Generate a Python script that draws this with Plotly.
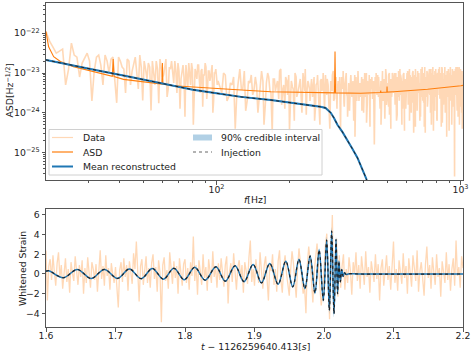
import numpy as np
import plotly.graph_objects as go

# ---------------- data ----------------
# ASD curve: frequency [Hz] and log10 amplitude
asd_freq = [20, 20.5, 21.5, 22.9, 25.9, 30.4, 35.6, 37.4, 37.7, 38.0,
            41.6, 48.7, 57, 59.7, 60, 60.3, 66.8, 88.7, 121.5, 166.8,
            259, 304.5, 306, 307.5, 390, 470, 471, 472, 499, 500,
            501, 533, 733, 1004, 1024]
asd_log = [-21.96, -22.34, -22.59, -22.71, -22.84, -22.94, -23.05, -23.08, -22.65, -23.09,
           -23.16, -23.22, -23.27, -23.28, -22.75, -23.28, -23.32, -23.36, -23.42, -23.47,
           -23.49, -23.50, -22.46, -23.50, -23.51, -23.49, -23.44, -23.49, -23.48, -23.34,
           -23.48, -23.47, -23.41, -23.32, -23.31]

# Mean reconstructed / injection in frequency domain (log10 amplitude)
mean_freq = [20, 25, 33.4, 42, 53.6, 67, 80, 100, 126, 167, 214, 243, 267, 280, 294,
             303, 313, 328, 344, 360, 378, 394, 410, 450, 500]
mean_log = [-22.67, -22.80, -22.95, -23.07, -23.20, -23.32, -23.42, -23.51, -23.60, -23.68,
            -23.76, -23.81, -23.85, -23.88, -24.00, -24.13, -24.30, -24.48, -24.68, -24.90,
            -25.13, -25.38, -25.64, -26.40, -27.20]
mean_ci_dex = [0.02, 0.02, 0.02, 0.02, 0.02, 0.02, 0.02, 0.02, 0.02, 0.02,
               0.02, 0.02, 0.02, 0.025, 0.03, 0.03, 0.03, 0.03, 0.03, 0.03,
               0.03, 0.03, 0.03, 0.03, 0.03]

# Data |FFT| (log10), 20-100 Hz, two interleaved sample sets
data_log_low = [-21.95, -22.35, -22.45, -23.30, -22.25, -22.60, -22.75, -22.50, -23.70, -22.60,
                -22.80, -22.55, -23.00, -22.60, -23.75, -22.70, -22.90, -22.65, -23.30, -22.80,
                -23.00, -22.55, -23.69, -22.90, -22.75, -23.94, -23.00, -22.70, -23.76, -22.85,
                -23.05, -22.65, -23.40, -22.90, -23.10, -22.70, -23.50, -22.95, -23.15, -22.80,
                -24.10, -23.00, -22.75, -23.30, -22.90, -23.60, -23.00, -22.80, -23.20, -22.95,
                -23.85, -23.05, -22.85, -23.40, -22.95, -23.10, -22.80, -23.70, -23.00, -23.10]
data_log_low2 = [-22.20, -22.50, -22.40, -22.90, -22.55, -23.10, -22.60, -22.70, -22.95, -22.55,
                 -23.30, -22.70, -22.65, -23.20, -22.60, -22.85, -23.50, -22.70, -22.95, -22.60,
                 -23.40, -22.85, -22.70, -23.15, -22.85, -22.70, -23.30, -22.90, -22.65, -23.10,
                 -22.80, -23.60, -22.85, -22.70, -23.25, -22.95, -22.75, -23.90, -22.90, -23.10,
                 -22.80, -23.35, -22.95, -22.75, -24.30, -22.90, -23.15, -22.80, -23.50, -22.90,
                 -23.05, -22.75, -23.65, -22.95, -23.20, -22.80, -24.00, -23.00, -22.90, -23.30]
# Data |FFT| (log10), 100-1024 Hz, two interleaved sample sets
data_log_high = [
    -23.2, -23.5, -23.05, -23.6, -23.3, -24.4, -23.15, -23.4, -22.95, -23.7, -23.25, -23.55, -23.1, -24.0, -23.35, -23.2, -23.8, -23.0, -23.45, -24.5,
    -23.15, -23.3, -23.65, -22.9, -23.4, -23.9, -23.2, -23.05, -23.6, -23.35, -24.2, -23.1, -23.5, -23.25, -23.75, -23.0, -23.45, -24.05, -23.2, -23.4,
    -23.3, -23.6, -23.1, -23.85, -23.25, -23.5, -24.3, -23.15, -23.4, -23.7, -23.05, -23.55, -23.3, -24.1, -23.2, -23.45, -22.95, -23.65, -23.35, -23.9,
    -23.2, -23.5, -24.45, -23.1, -23.4, -23.75, -23.25, -23.0, -23.6, -23.35, -23.95, -23.15, -23.5, -23.3, -24.2, -23.05, -23.45, -23.7, -23.2, -23.4,
    -23.3, -23.6, -23.1, -23.45, -24.0, -23.2, -23.5, -23.0, -23.75, -23.3, -23.55, -24.35, -23.15, -23.4, -23.65, -23.25, -24.8, -23.1, -23.45, -23.35,
    -23.05, -23.6, -23.3, -23.9, -23.2, -23.45, -22.95, -23.7, -23.25, -24.15, -23.4, -23.1, -23.55, -23.3, -23.85, -23.0, -23.45, -24.4, -23.2, -23.35,
    -23.1, -23.5, -23.25, -23.8, -23.0, -23.4, -24.05, -23.2, -23.6, -23.3, -22.9, -23.55, -23.15, -24.3, -23.35, -23.05, -23.7, -23.25, -23.45, -23.9,
    -23.1, -23.35, -22.95, -23.6, -23.2, -24.2, -23.05, -23.45, -23.25, -23.75, -23.0, -23.5, -24.5, -23.15, -23.3, -22.9, -23.65, -23.2, -23.95, -23.1,
    -23.4, -23.0, -23.55, -23.25, -24.1, -23.1, -23.35, -22.85, -23.7, -23.2, -23.45, -24.35, -23.05, -23.3, -23.6, -23.15, -22.95, -23.85, -23.25, -23.4,
    -23.05, -23.5, -23.2, -24.0, -22.9, -23.35, -23.15, -23.7, -23.0, -24.45, -23.25, -23.45, -22.95, -23.6, -23.1, -23.3, -24.15, -23.05, -23.4, -23.2,
    -22.9, -23.55, -23.15, -23.3, -23.85, -23.0, -23.4, -22.85, -24.25, -23.2, -23.5, -23.05, -23.35, -23.75, -22.95, -23.25, -23.6, -23.1, -24.6, -23.3,
    -23.0, -23.45, -22.9, -23.3, -23.95, -23.15, -23.4, -22.85, -23.65, -23.2, -24.3, -23.05, -23.35, -22.95, -23.55, -23.25, -23.1, -25.6, -23.4, -22.9,
    -23.2, -23.5, -23.05, -23.75, -22.85, -23.3, -24.1, -23.15, -23.45, -22.9, -23.6, -23.25, -23.0, -23.85, -23.2, -22.95, -23.4, -24.4, -23.1, -23.3,
]
data_log_high2 = [
    -23.35, -23.0, -23.7, -23.25, -23.1, -23.55, -22.9, -23.4, -23.95, -23.2, -23.05, -23.45, -23.3, -23.65, -22.95, -24.3, -23.25, -23.1, -23.5, -23.15,
    -23.45, -23.2, -22.95, -23.8, -23.3, -23.1, -23.55, -24.45, -23.2, -23.4, -23.0, -23.6, -23.35, -23.15, -24.0, -23.3, -22.9, -23.5, -23.25, -23.7,
    -23.15, -23.4, -24.2, -23.3, -23.05, -23.6, -23.2, -23.45, -23.0, -23.9, -23.35, -23.15, -23.55, -24.4, -23.25, -23.05, -23.7, -23.3, -23.1, -23.5,
    -23.4, -23.1, -23.65, -23.3, -22.95, -23.85, -23.2, -23.5, -24.1, -23.25, -23.4, -23.05, -23.6, -23.2, -23.45, -24.6, -23.1, -23.35, -22.95, -23.7,
    -23.25, -23.45, -23.95, -23.15, -23.35, -23.0, -23.6, -24.25, -23.2, -23.4, -23.05, -23.7, -23.3, -23.1, -23.5, -23.2, -24.0, -23.35, -23.0, -23.55,
    -23.3, -23.1, -23.5, -23.2, -24.3, -23.0, -23.4, -23.65, -23.15, -23.35, -22.9, -23.8, -23.25, -23.45, -23.05, -24.05, -23.3, -23.15, -23.6, -23.0,
    -23.4, -23.2, -23.0, -23.6, -23.3, -24.2, -23.1, -23.45, -22.95, -23.7, -23.25, -23.05, -23.5, -23.2, -23.9, -23.35, -23.0, -24.45, -23.15, -23.3,
    -23.45, -23.0, -23.3, -23.8, -23.15, -22.9, -23.55, -23.25, -24.0, -23.1, -23.35, -22.95, -23.6, -23.2, -23.05, -24.35, -23.3, -23.1, -23.5, -22.95,
    -23.2, -23.5, -23.05, -24.2, -23.3, -22.9, -23.6, -23.15, -23.4, -23.0, -23.75, -23.25, -22.85, -24.5, -23.35, -23.1, -23.45, -23.0, -23.65, -23.2,
    -23.35, -22.9, -23.55, -23.1, -23.3, -24.3, -23.0, -23.45, -22.85, -23.7, -23.2, -23.05, -23.95, -23.25, -22.9, -23.5, -23.15, -24.2, -23.0, -23.35,
    -23.1, -23.4, -22.85, -23.65, -23.2, -23.0, -24.35, -23.3, -22.9, -23.55, -23.15, -23.8, -23.0, -23.35, -22.85, -24.0, -23.25, -23.05, -23.45, -22.95,
    -23.3, -22.95, -23.6, -23.15, -24.45, -23.0, -23.35, -22.85, -23.7, -23.2, -23.05, -23.5, -22.9, -23.85, -23.25, -23.0, -24.2, -23.3, -22.95, -23.55,
    -23.1, -22.85, -23.45, -23.2, -23.95, -22.9, -23.3, -23.05, -23.65, -22.85, -24.3, -23.15, -23.4, -22.9, -23.55, -23.1, -24.0, -22.95, -23.25, -23.05,
]

# Whitened waveform (extrema)
wave_t = [1.600, 1.604, 1.625, 1.645, 1.665, 1.684, 1.703, 1.720, 1.737, 1.753,
          1.769, 1.784, 1.799, 1.814, 1.829, 1.8445, 1.858, 1.872, 1.885, 1.898,
          1.910, 1.922, 1.934, 1.945, 1.955, 1.964, 1.9725, 1.980, 1.987, 1.993,
          1.999, 2.0038, 2.0077, 2.0110, 2.0144, 2.0173, 2.0195, 2.0215, 2.0235, 2.0255,
          2.0275, 2.0295, 2.032, 2.036, 2.05, 2.2]
wave_v = [0.28, 0.33, -0.38, 0.46, -0.46, 0.47, -0.45, 0.52, -0.48, 0.56,
          -0.53, 0.58, -0.58, 0.68, -0.63, 0.73, -0.73, 0.83, -0.78, 0.97,
          -0.90, 1.07, -1.04, 1.30, -1.30, 1.48, -1.48, 1.82, -1.93, 2.43,
          -2.67, 3.45, -3.69, 4.37, -4.03, 3.50, -2.00, 1.30, -0.80, 0.45,
          -0.25, 0.12, -0.05, 0.02, 0.0, 0.0]
wave_ci = [0.04, 0.04, 0.04, 0.04, 0.04, 0.04, 0.04, 0.04, 0.04, 0.04,
           0.05, 0.05, 0.05, 0.05, 0.05, 0.05, 0.06, 0.06, 0.06, 0.07,
           0.07, 0.08, 0.08, 0.09, 0.10, 0.11, 0.12, 0.14, 0.16, 0.20,
           0.24, 0.30, 0.34, 0.38, 0.36, 0.30, 0.22, 0.15, 0.10, 0.07,
           0.05, 0.04, 0.03, 0.03, 0.03, 0.03]

# Whitened strain data (2 ms samples from 1.6 s to 2.2 s)
strain_data = [
    2.4, -2.7, 0.8, 1.5, -0.6, 1.9, 0.2, -1.2, 1.1, 2.2, -0.4, 0.9, -1.5, 0.3, 1.6, -0.8, 0.5, -1.9, 1.2, 0.1, -0.7, 1.8, 0.4, -1.1, 0.9,
    -0.3, 1.4, -2.0, 0.6, -0.9, 1.7, 0.2, -1.4, 1.2, 0.5, -0.6, 1.0, -1.8, 0.3, 2.4, -0.5, 0.8, -1.2, 1.9, -0.2, 0.6, -1.6, 1.1, 0.0, -0.9,
    0.7, -1.3, -3.4, 0.4, 1.2, -0.8, 1.6, -0.3, 0.9, -1.7, 1.3, 0.2, -1.0, 2.1, 0.5, 3.3, -0.6, -2.8, 0.8, 1.5, -1.1, 0.3, 1.8, -0.9, 0.6,
    -1.4, 1.1, 2.0, -0.5, 0.7, -1.8, 1.4, 0.2, -4.9, 0.9, 1.7, -0.7, 0.4, -1.5, 2.2, 0.1, -1.0, 1.3, -0.4, 0.8, -2.0, 1.6, 0.3, -1.2, 1.0,
    1.5, -0.9, 0.6, -1.6, 1.2, -0.2, 3.8, -0.7, 0.9, -2.1, 1.4, 0.3, -1.1, 2.0, -0.4, 0.7, -1.7, 1.5, 0.0, -0.9, 2.3, -0.3, 0.8, -1.4, 1.1,
    -0.6, 1.6, 0.4, -1.3, 0.9, 1.8, -3.0, 0.2, 1.1, -0.8, 2.1, -0.2, -1.6, 0.7, 1.4, -0.5, 0.9, -1.9, 1.2, 0.3, -1.0, 1.7, 3.4, -0.8, 0.5,
    -1.2, 1.5, 0.2, -0.9, 2.2, 0.6, -1.5, 0.9, 1.8, -0.4, -2.7, 1.0, 0.3, 2.0, -1.1, 0.5, -1.8, 1.3, 2.4, -0.6, -1.9, 0.8, 1.9, 0.1, -1.4,
    -2.2, 0.4, 2.3, 1.1, -1.0, -2.4, 0.6, 2.6, 1.2, -0.8, -2.0, -1.3, -4.0, 0.9, 2.8, 1.4, -1.2, -2.9, 0.3, 2.1, 3.1, 0.8, -1.9, -3.2, -2.0,
    1.2, 2.9, 4.1, 0.2, -4.6, 1.5, 6.0, -3.8, -1.0, 3.6, -2.3, 1.9, -1.4, 0.8, 2.0, -1.6, 0.5, -0.9, 1.7, 0.3, -2.1, 1.2, 0.0, 2.2, -0.7,
    0.9, -1.5, 1.8, 0.4, -1.1, 2.3, -0.3, 0.7, -1.9, 1.3, 0.1, -0.8, 2.0, -0.5, 1.0, -2.7, 0.6, 1.5, -1.2, 0.2, 1.9, -0.6, 0.8, -1.6, 1.1,
    3.3, -0.9, 0.5, -1.7, 1.4, 0.2, -1.0, 2.1, -0.4, 0.8, -2.0, 1.6, 0.0, -1.3, 1.9, 0.6, -0.7, 2.4, -1.8, 0.3, 1.2, -0.5, -2.2, 1.0, 2.8,
    -0.4, 0.9, -1.5, 1.7, 0.2, -1.1, 2.0, -0.3, 0.6, -2.3, 1.3, 0.4, -0.9, 2.2, -0.6, 1.0, -1.7, 0.5, 1.6, -1.2, 3.4, -0.2, 0.7, -1.4, 1.8, 0.6,
]

# tick labels
f_tickvals = [100, 1000]
f_ticktext = ["10<sup>2</sup>", "10<sup>3</sup>"]
asd_tickvals = [1e-25, 1e-24, 1e-23, 1e-22]
asd_ticktext = ["10<sup>−25</sup>", "10<sup>−24</sup>", "10<sup>−23</sup>", "10<sup>−22</sup>"]
t_tickvals = [1.6, 1.7, 1.8, 1.9, 2.0, 2.1, 2.2]
t_ticktext = ["1.6", "1.7", "1.8", "1.9", "2.0", "2.1", "2.2"]
s_tickvals = [-4, -2, 0, 2, 4, 6]
s_ticktext = ["−4", "−2", "0", "2", "4", "6"]

# ---------------- derived ----------------
f_all = np.concatenate([np.linspace(20, 100, len(data_log_low)),
                        np.linspace(20.68, 100.68, len(data_log_low2)),
                        np.linspace(101.5, 1024, len(data_log_high)),
                        np.linspace(103.3, 1022.3, len(data_log_high2))])
v_all = np.array(data_log_low + data_log_low2 + data_log_high + data_log_high2)
order = np.argsort(f_all)
data_freq = f_all[order]
data_amp = 10 ** v_all[order]
asd_amp = 10 ** np.array(asd_log)
mean_arr = np.array(mean_log)
ci_arr = np.array(mean_ci_dex)
mean_amp = 10 ** mean_arr
mean_hi = 10 ** (mean_arr + ci_arr)
mean_lo = 10 ** (mean_arr - ci_arr)
t_data = np.linspace(1.6, 2.2, len(strain_data))
wv = np.array(wave_v)
wc = np.array(wave_ci)

C0 = "#1f77b4"
C1 = "#ff7f0e"
DATA_COL = "rgba(255,127,14,0.3)"
CI_COL = "rgba(31,119,180,0.35)"

fig = go.Figure()
# ---- top panel ----
fig.add_trace(go.Scatter(x=data_freq, y=data_amp, mode="lines",
                         line=dict(color=DATA_COL, width=1.6), xaxis="x", yaxis="y"))
fig.add_trace(go.Scatter(x=asd_freq, y=asd_amp, mode="lines",
                         line=dict(color=C1, width=1.1), xaxis="x", yaxis="y"))
fig.add_trace(go.Scatter(x=mean_freq, y=mean_lo, mode="lines", line=dict(width=0),
                         xaxis="x", yaxis="y"))
fig.add_trace(go.Scatter(x=mean_freq, y=mean_hi, mode="lines", line=dict(width=0),
                         fill="tonexty", fillcolor=CI_COL, xaxis="x", yaxis="y"))
fig.add_trace(go.Scatter(x=mean_freq, y=mean_amp, mode="lines",
                         line=dict(color=C0, width=2), xaxis="x", yaxis="y"))
fig.add_trace(go.Scatter(x=mean_freq, y=mean_amp, mode="lines",
                         line=dict(color="#222", width=1, dash="dot"), xaxis="x", yaxis="y"))
# ---- bottom panel ----
fig.add_trace(go.Scatter(x=t_data, y=strain_data, mode="lines",
                         line=dict(color=DATA_COL, width=1.3), xaxis="x2", yaxis="y2"))
fig.add_trace(go.Scatter(x=wave_t, y=wv - wc, mode="lines", line=dict(width=0, shape="spline"),
                         xaxis="x2", yaxis="y2"))
fig.add_trace(go.Scatter(x=wave_t, y=wv + wc, mode="lines", line=dict(width=0, shape="spline"),
                         fill="tonexty", fillcolor=CI_COL, xaxis="x2", yaxis="y2"))
fig.add_trace(go.Scatter(x=wave_t, y=wave_v, mode="lines",
                         line=dict(color=C0, width=1.5, shape="spline"), xaxis="x2", yaxis="y2"))
fig.add_trace(go.Scatter(x=wave_t, y=wave_v, mode="lines",
                         line=dict(color="#222", width=1.2, dash="dot", shape="spline"),
                         xaxis="x2", yaxis="y2"))

axis_common = dict(showline=True, linecolor="#555", linewidth=1, mirror=True,
                   ticks="outside", ticklen=3.5, tickwidth=1, tickcolor="#555",
                   showgrid=False, zeroline=False,
                   tickfont=dict(family="DejaVu Sans", size=9.3, color="#222"))

f_minor = [30, 40, 50, 60, 70, 80, 90, 200, 300, 400, 500, 600, 700, 800, 900]
a_minor = [m * 10.0 ** e for e in range(-26, -21) for m in range(2, 10)]

fig.update_layout(
    width=474, height=355,
    margin=dict(l=46, r=11, t=3, b=28),
    paper_bgcolor="white", plot_bgcolor="white",
    showlegend=False,
    font=dict(family="DejaVu Sans", size=9.3, color="#222"),
    xaxis=dict(type="log", range=[np.log10(20), np.log10(1024)], domain=[0, 1], anchor="y",
               tickmode="array", tickvals=f_tickvals, ticktext=f_ticktext,
               ticklabelstandoff=-3,
               minor=dict(tickmode="array", tickvals=f_minor, ticks="outside", ticklen=2,
                          tickcolor="#555"),
               **axis_common),
    yaxis=dict(type="log", range=[-25.69, -21.24], domain=[0.4537, 1], anchor="x",
               tickmode="array", tickvals=asd_tickvals, ticktext=asd_ticktext,
               minor=dict(tickmode="array", tickvals=a_minor, ticks="outside", ticklen=2,
                          tickcolor="#555"),
               **axis_common),
    xaxis2=dict(range=[1.6, 2.2], domain=[0, 1], anchor="y2",
                tickmode="array", tickvals=t_tickvals, ticktext=t_ticktext,
                ticklabelstandoff=-4, **axis_common),
    yaxis2=dict(range=[-5.39, 6.61], domain=[0, 0.3642], anchor="x2",
                tickmode="array", tickvals=s_tickvals, ticktext=s_ticktext, **axis_common),
)

# ---- pixel -> paper helpers for legend/titles ----
def px(xp):
    return (xp - 46) / 417.0


def py(yp):
    return (327 - yp) / 324.0


shapes = [
    dict(type="rect", xref="paper", yref="paper", x0=px(49), x1=px(322), y0=py(175), y1=py(129.5),
         fillcolor="rgba(255,255,255,0.8)", line=dict(color="#d0d0d0", width=1), layer="above"),
    dict(type="line", xref="paper", yref="paper", x0=px(52), x1=px(73), y0=py(137.5), y1=py(137.5),
         line=dict(color=DATA_COL, width=1.2), layer="above"),
    dict(type="line", xref="paper", yref="paper", x0=px(52), x1=px(73), y0=py(152), y1=py(152),
         line=dict(color=C1, width=1.2), layer="above"),
    dict(type="line", xref="paper", yref="paper", x0=px(52), x1=px(73), y0=py(166.5), y1=py(166.5),
         line=dict(color=C0, width=2), layer="above"),
    dict(type="rect", xref="paper", yref="paper", x0=px(193), x1=px(212), y0=py(140.5), y1=py(134.5),
         fillcolor=CI_COL, line=dict(width=0), layer="above"),
    dict(type="line", xref="paper", yref="paper", x0=px(193), x1=px(212), y0=py(152), y1=py(152),
         line=dict(color="#666", width=1, dash="dot"), layer="above"),
]

ann_font = dict(family="DejaVu Sans", size=9.3, color="#222")
annotations = [
    dict(text="Data", x=px(81), y=py(137.5)),
    dict(text="ASD", x=px(81), y=py(152)),
    dict(text="Mean reconstructed", x=px(81), y=py(166.5)),
    dict(text="90% credible interval", x=px(219), y=py(137.5)),
    dict(text="Injection", x=px(219), y=py(152)),
]
for a in annotations:
    a.update(xref="paper", yref="paper", xanchor="left", yanchor="middle",
             showarrow=False, font=ann_font)

annotations += [
    dict(text="ASD[Hz<sup>−1/2</sup>]", x=px(9), y=py(90.5), textangle=-90),
    dict(text="Whitened Strain", x=px(22), y=py(269), textangle=-90),
    dict(text="<i>f</i>[Hz]", x=px(255), y=py(199)),
    dict(text="<i>t</i> − 1126259640.413[<i>s</i>]", x=px(255), y=py(346)),
]
for a in annotations[5:]:
    a.update(xref="paper", yref="paper", xanchor="center", yanchor="middle",
             showarrow=False, font=ann_font)

fig.update_layout(shapes=shapes, annotations=annotations)
fig.write_html("out.html",
               config={"displayModeBar": False},
               post_script="document.body.style.margin='0px';"
                           "document.body.style.padding='0px';"
                           "document.documentElement.style.overflow='hidden';")
